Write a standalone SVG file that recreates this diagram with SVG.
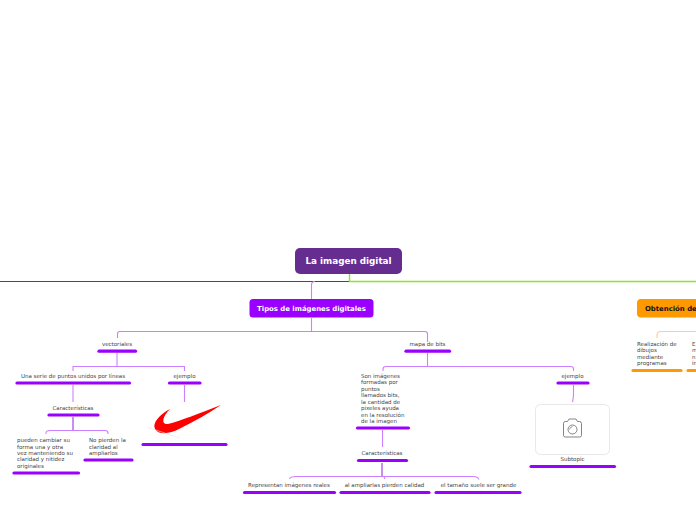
<svg xmlns="http://www.w3.org/2000/svg" width="696" height="520" viewBox="0 0 696 520">
<style>
text{font-family:"DejaVu Sans",sans-serif;font-size:5.500px;fill:#444}
.c{text-anchor:middle}
.b{font-weight:700}
.u{stroke:#9900ff;stroke-width:3.200;stroke-linecap:round;fill:none}
.o{stroke:#ff9900}
.l{stroke:#cc80ff;stroke-width:1.100;fill:none}
.d{stroke:#9a33e6;stroke-width:1.100;fill:none}
</style>
<rect width="696" height="520" fill="#fff"/>
<g id="connectors">
<path d="M0 281.500H312" stroke="#0f4fe0" stroke-width="1.200" fill="none"/>
<path d="M312 281.500H349" stroke="#a000d0" stroke-width="1.200" fill="none"/>
<path d="M349.500 274V281.500H696" stroke="#8ae62a" stroke-width="1.400" fill="none"/>
<path class="l" d="M311.500 299V285Q311.500 281.500 315 281.500"/>
<path class="l" d="M311.500 318V331.500M117.500 338V334Q117.500 331.500 120 331.500H425Q427.500 331.500 427.500 334V342"/>
<path class="l" d="M117 353V366.500M73 371V366.500H184.500V371"/>
<path class="l" d="M73 385V402"/>
<path class="d" d="M73 417V430"/>
<path class="l" d="M46 434V433Q46 430.500 50 430.500H105Q108 430.500 108 433V434"/>
<path class="l" d="M184.500 385V402"/>
<path class="l" d="M427.500 353V366.500M383 371V369Q383 366.500 386 366.500H571Q573.500 366.500 573.500 369V371"/>
<path class="l" d="M382.500 430V447"/>
<path class="d" d="M382 463V476"/>
<path class="l" d="M289.500 479Q290 476.500 296 476.500H473Q478 476.500 479 479.500M384 476.500L385 479"/>
<path class="l" d="M573.500 385V395Q573 400 572.500 402"/>
<path class="l" style="stroke:#ffcc99" d="M657 338V335Q657 331.500 661 331.500H696"/>
</g>
<g id="root"><rect x="295" y="248" width="107" height="26" rx="5" fill="#662d91"/><text class="c b" x="348.500" y="264.300" style="font-size:8.800px;fill:#fff">La imagen digital</text></g>
<g id="tipos"><rect x="249.500" y="299" width="124" height="18.500" rx="3.500" fill="#9900ff"/><text class="c b" x="311.500" y="311" style="font-size:6.900px;fill:#fff">Tipos de imágenes digitales</text></g>
<g id="obtencion"><rect x="637" y="299" width="70" height="18.500" rx="4" fill="#ff9900"/><text class="b" x="645" y="311" style="font-size:6.900px;fill:#111">Obtención de</text></g>
<g id="vectoriales"><text class="c" x="117" y="346">vectoriales</text><path class="u" d="M99 351.200H135.500"/></g>
<g id="mapa"><text class="c" x="427.500" y="346">mapa de bits</text><path class="u" d="M406 351.200H449.500"/></g>
<g id="serie"><text class="c" x="73" y="378">Una serie de puntos unidos por líneas</text><path class="u" d="M17 383H129.500"/></g>
<g id="ejemplo1"><text class="c" x="184.500" y="378">ejemplo</text><path class="u" d="M169.500 383H200"/></g>
<g id="caracteristicas1"><text class="c" x="73" y="410">Características</text><path class="u" d="M49 415H98"/></g>
<g id="pueden"><text x="17" y="442">pueden cambiar su</text><text x="17" y="448.500">forma una y otra</text><text x="17" y="455">vez manteniendo su</text><text x="17" y="461">claridad y nitidez</text><text x="17" y="468">originales</text><path class="u" d="M14 473H78.500"/></g>
<g id="nopierden"><text x="89" y="442">No pierden la</text><text x="89" y="448.500">claridad al</text><text x="89" y="455">ampliarlos</text><path class="u" d="M85 460H132"/></g>
<g id="nike"><path d="M221 405C200 413 180 421 168 424C161 425 162 417 170 409C160 414 152 423 155 429C158 435 170 434 179 429C193 422 208 414 221 405Z" fill="#f00"/><path d="M148 427.500L180 438" stroke="#e4e0ea" stroke-width=".6" fill="none"/><path class="u" d="M143 444.500H226"/></g>
<g id="son"><text x="361" y="378">Son imágenes</text><text x="361" y="384">formadas por</text><text x="361" y="391">puntos</text><text x="361" y="397">llamados bits,</text><text x="361" y="404">la cantidad de</text><text x="361" y="410">pixeles ayuda</text><text x="361" y="417">en la resolución</text><text x="361" y="423">de la imagen</text><path class="u" d="M357.500 428H408.500"/></g>
<g id="caracteristicas2"><text class="c" x="382" y="455">Características</text><path class="u" d="M358.500 460.500H406.500"/></g>
<g id="representan"><text class="c" x="289" y="487">Representan imágenes reales</text><path class="u" d="M244.500 492.500H334.500"/></g>
<g id="ampliarlas"><text class="c" x="384.500" y="487">al ampliarlas pierden calidad</text><path class="u" d="M341 492.500H429"/></g>
<g id="tamano"><text class="c" x="478.500" y="487">el tamaño suele ser grande</text><path class="u" d="M436 492.500H520"/></g>
<g id="ejemplo2"><text class="c" x="572.500" y="378">ejemplo</text><path class="u" d="M558 383H588"/></g>
<g id="subtopic"><rect x="535.500" y="404.500" width="74" height="50" rx="5" fill="#fff" stroke="#e8e8e8"/><path d="M563.500 423.500Q563.500 421.500 565.500 421.500H567.500L569 419H576L577.500 421.500H579.500Q581.500 421.500 581.500 423.500V435.500Q581.500 437 579.500 437H565.500Q563.500 437 563.500 435.500Z" fill="none" stroke="#666" stroke-width=".8"/><circle cx="572.500" cy="429.500" r="4.500" fill="none" stroke="#666" stroke-width=".8"/><path d="M569.500 429.500Q570 427 572.500 426.500" fill="none" stroke="#666" stroke-width=".7"/><text class="c" x="572.500" y="461">Subtopic</text><path class="u" d="M531 466.500H614.500"/></g>
<g id="realizacion"><text x="637" y="346">Realización de</text><text x="637" y="352">dibujos</text><text x="637" y="358.500">mediante</text><text x="637" y="364.500">programas</text><path class="u o" style="stroke:#ff9900" d="M633 370.500H681"/></g>
<g id="obt2"><text x="692" y="346">E</text><text x="692" y="352">m</text><text x="692" y="358.500">n</text><text x="692" y="364.500">in</text><path class="u o" style="stroke:#ff9900" d="M688 370.500H698"/></g>
</svg>
